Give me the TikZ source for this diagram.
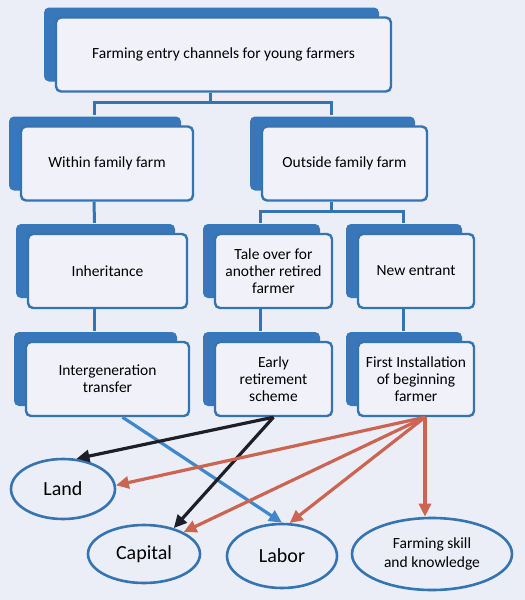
\documentclass[tikz,border=0pt]{standalone}
\usepackage{fontspec}
\setmainfont{Carlito}
\usetikzlibrary{shapes.geometric, arrows.meta}
\usetikzlibrary{shadows}

\definecolor{bgcol}{RGB}{236,238,247}
\definecolor{boxblue}{RGB}{52,116,178}
\definecolor{tabblue}{RGB}{56,120,186}
\definecolor{boxfill}{RGB}{240,241,249}
\definecolor{arrred}{RGB}{204,100,82}
\definecolor{arrblue}{RGB}{62,136,206}
\definecolor{arrblack}{RGB}{30,30,40}

\begin{document}
\begin{tikzpicture}[x=1pt, y=-1pt,
    chan/.style={draw=boxblue, line width=2.4pt, fill=boxfill, rounded corners=5pt,
        align=center, inner sep=2pt, minimum height=74pt,
        general shadow={fill=tabblue, shadow xshift=-12pt, shadow yshift=10pt},
        font=\fontsize{15.5}{16.7}\selectfont},
    res/.style={draw=boxblue, line width=2.6pt, ellipse, inner sep=0pt, align=center,
        font=\fontsize{20}{22}\selectfont},
    link/.style={draw=boxblue, line width=3pt},
    flow/.style={line width=3.2pt, -{Triangle[length=13pt,width=12pt]}}]
    \useasboundingbox[fill=bgcol] (0,0) rectangle (525,600);
    % channel boxes
    \node[chan, minimum width=335pt] (top) at (223.5,54.5) {Farming entry channels for young farmers};
    \node[chan, minimum width=172pt] (within) at (107,163.5) {Within family farm};
    \node[chan, minimum width=165pt] (outside) at (344.5,163.5) {Outside family farm};
    \node[chan, minimum width=159pt] (inherit) at (107.5,271) {Inheritance};
    \node[chan, minimum width=117pt] (takeover) at (273.5,271) {Tale over for\\another retired\\farmer};
    \node[chan, minimum width=116pt] (newent) at (416,271) {New entrant};
    \node[chan, minimum width=163pt] (intergen) at (107.5,379) {Intergeneration\\transfer};
    \node[chan, minimum width=117pt] (early) at (273.5,379) {Early\\retirement\\scheme};
    \node[chan, minimum width=116pt] (first) at (416,379) {First Installation\\of beginning\\farmer};
    % resources
    \node[res, minimum width=104pt, minimum height=60pt] (land) at (63,489) {Land};
    \node[res, minimum width=112pt, minimum height=58pt] (capital) at (144,554) {Capital};
    \node[res, minimum width=110pt, minimum height=64pt] (labor) at (282,556) {Labor};
    \node[res, minimum width=160pt, minimum height=72pt, font=\fontsize{15.5}{18.3}\selectfont] (skill) at (432,554) {Farming skill\\and knowledge};
    % tree links
    \draw[link] ([xshift=-13pt]top.south) -- ++(0,10) coordinate (b1);
    \draw[link] (b1) -| ([xshift=-13pt,yshift=10pt]within.north);
    \draw[link] (b1) -| ([xshift=-13pt,yshift=10pt]outside.north);
    \draw[link] ([xshift=-13pt]outside.south) -- ++(0,10) coordinate (b2);
    \draw[link] (b2) -| ([xshift=-13pt,yshift=10pt]takeover.north);
    \draw[link] (b2) -| ([xshift=-13pt,yshift=10pt]newent.north);
    \draw[link] ([xshift=-13pt]within.south) -- ([xshift=-13pt,yshift=10pt]inherit.north);
    \draw[link] ([xshift=-13pt]inherit.south) -- ([xshift=-13pt,yshift=10pt]intergen.north);
    \draw[link] ([xshift=-13pt]takeover.south) -- ([xshift=-13pt,yshift=10pt]early.north);
    \draw[link] ([xshift=-13pt]newent.south) -- ([xshift=-13pt,yshift=10pt]first.north);
    % resource arrows
    \draw[flow, arrblue] ([xshift=15pt]intergen.south) -- (labor.north);
    \draw[flow, arrblack] (early.south) -- (land.66);
    \draw[flow, arrblack] (early.south) -- (capital.41);
    \coordinate (fi) at ([xshift=9pt]first.south);
    \draw[flow, arrred] (fi) -- (land.4);
    \draw[flow, arrred] (fi) -- (capital.29);
    \draw[flow, arrred] (fi) -- (labor.77);
    \draw[flow, arrred] (fi) -- (fi |- skill.north);
\end{tikzpicture}
\end{document}
